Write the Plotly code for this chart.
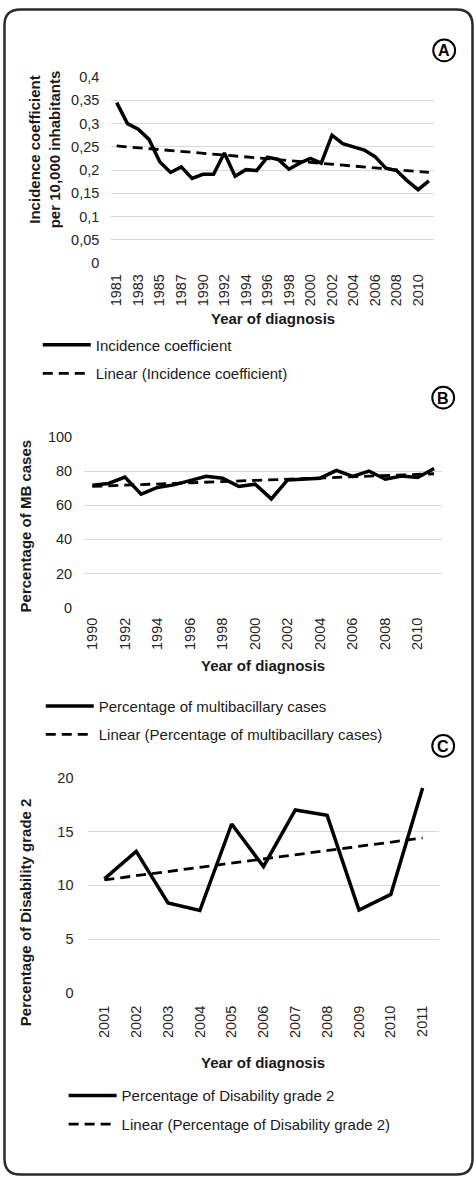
import plotly.graph_objects as go

W, H = 474, 1184

# panel A: incidence coefficient per 10,000 inhabitants
years_a = ["1981", "1982", "1983", "1984", "1985", "1986", "1987", "1989", "1990",
           "1991", "1992", "1993", "1994", "1995", "1996", "1997", "1998", "1999",
           "2000", "2001", "2002", "2003", "2004", "2005", "2006", "2007", "2008",
           "2009", "2010", "2011"]
incidence = [0.345, 0.300, 0.288, 0.266, 0.218, 0.195, 0.207, 0.182, 0.191,
             0.191, 0.237, 0.187, 0.201, 0.199, 0.228, 0.223, 0.202, 0.215,
             0.225, 0.215, 0.275, 0.257, 0.250, 0.243, 0.229, 0.204, 0.199,
             0.177, 0.158, 0.177]
trend_a = [0.252, 0.195]

# panel B: percentage of multibacillary cases
years_b = [str(y) for y in range(1990, 2012)]
mb_pct = [71.7, 72.7, 76.5, 66.5, 70.4, 71.9, 74.4, 76.9, 75.8, 71.0, 72.3,
          63.7, 74.8, 75.2, 75.8, 80.4, 76.9, 80.0, 75.2, 77.1, 76.2, 81.5]
trend_b = [71.0, 78.4]

# panel C: percentage of disability grade 2
years_c = [str(y) for y in range(2001, 2012)]
dis_pct = [10.6, 13.15, 8.35, 7.65, 15.7, 11.75, 17.0, 16.5, 7.7, 9.15, 19.05]
trend_c = [10.5, 14.4]

FONT = "Liberation Sans, Arial, sans-serif"
TICK = dict(family=FONT, size=14.5, color="#262626")
GRID = "#d9d9d9"


def px(x):
    return x / W


def py(y):
    return 1 - y / H


fig = go.Figure()

panels = [
    # name, axis suffix, years, values, trend, legend, plot box (l, r, top, bottom)
    ("Incidence coefficient", "", years_a, incidence, trend_a, "legend", (109, 434, 70, 258.7)),
    ("Percentage of multibacillary cases", "2", years_b, mb_pct, trend_b, "legend2", (81.7, 442, 434.7, 608)),
    ("Percentage of Disability grade 2", "3", years_c, dis_pct, trend_c, "legend3", (86, 438.3, 780.3, 998.3)),
]

for i, (name, ax, years, vals, trend, leg, box) in enumerate(panels):
    fig.add_trace(go.Scatter(
        x=years, y=vals, mode="lines", name=name,
        line=dict(color="black", width=3.5),
        xaxis="x" + ax, yaxis="y" + ax, legend=leg, legendgroup=f"d{i}",
    ))
    fig.add_trace(go.Scatter(
        x=[years[0], years[-1]], y=trend, mode="lines", name=f"Linear ({name})",
        line=dict(color="black", width=2.8, dash="10px,6px"),
        xaxis="x" + ax, yaxis="y" + ax, legend=leg, legendgroup=f"t{i}",
    ))

yaxis_cfg = [
    dict(range=[0, 0.4], dtick=0.05),
    dict(range=[0, 100], dtick=20),
    dict(range=[0, 20], dtick=5),
]
xtick_step = [2, 2, 1]
xstand = [7, 6, 9]
ystand = [11, 11, 14]

layout = {}
for i, (name, ax, years, vals, trend, leg, box) in enumerate(panels):
    l, r, t, b = box
    layout["xaxis" + ax] = dict(
        domain=[px(l), px(r)], anchor="y" + ax, type="category",
        range=[-0.5, len(years) - 0.5], showgrid=False, showline=False, zeroline=False,
        tickmode="array", tickvals=years[::xtick_step[i]], ticktext=years[::xtick_step[i]],
        tickangle=-90, tickfont=TICK, ticks="", ticklabelstandoff=xstand[i],
    )
    layout["yaxis" + ax] = dict(
        domain=[py(b), py(t)], anchor="x" + ax, showgrid=True, gridcolor=GRID,
        gridwidth=1.3, zeroline=False, showline=False, ticks="", tickfont=TICK,
        ticklabelstandoff=ystand[i], **yaxis_cfg[i],
    )

legend_pos = [(35, 325), (38, 691), (61, 1086)]
for i, (lx, ly) in enumerate(legend_pos):
    key = "legend" if i == 0 else f"legend{i + 1}"
    layout[key] = dict(
        x=px(lx), y=py(ly), xanchor="left", yanchor="top", bgcolor="rgba(0,0,0,0)",
        font=dict(family=FONT, size=15, color="#1a1a1a"), itemwidth=48,
        tracegroupgap=6, traceorder="grouped",
    )

annotations = []
title_font = dict(family=FONT, size=15, color="#1a1a1a")
# x-axis titles
for (cx, cy) in [(271.5, 315), (262, 667), (262, 1069)]:
    annotations.append(dict(
        text="<b>Year of diagnosis</b>", x=px(cx), y=py(cy), xref="paper", yref="paper",
        xanchor="center", yanchor="middle", showarrow=False, font=title_font,
    ))
# y-axis titles
y_titles = [
    ("<b>Incidence coefficient<br>per 10,000 inhabitants</b>", 41.5, 143),
    ("<b>Percentage of MB cases</b>", 22.7, 525),
    ("<b>Percentage of Disability grade 2</b>", 22.7, 917),
]
for text, cx, cy in y_titles:
    annotations.append(dict(
        text=text, x=px(cx), y=py(cy), xref="paper", yref="paper", textangle=-90,
        xanchor="center", yanchor="middle", showarrow=False, font=title_font,
    ))

# panel letters in circles
shapes = []
for letter, (cx, cy) in zip("ABC", [(444, 43), (443, 395), (443, 748)]):
    shapes.append(dict(
        type="circle", xref="paper", yref="paper",
        x0=px(cx - 11), x1=px(cx + 11), y0=py(cy + 11), y1=py(cy - 11),
        line=dict(color="black", width=2),
    ))
    annotations.append(dict(
        text=f"<b>{letter}</b>", x=px(cx), y=py(cy + 0.5), xref="paper", yref="paper",
        xanchor="center", yanchor="middle", showarrow=False,
        font=dict(family=FONT, size=16, color="black"),
    ))

# rounded frame around the whole figure
x0, x1, y0, y1, rr = 1.5, 472.5, 1.5, 1182.5, 16
frame = (
    f"M {px(x0 + rr)},{py(y0)} L {px(x1 - rr)},{py(y0)} "
    f"Q {px(x1)},{py(y0)} {px(x1)},{py(y0 + rr)} L {px(x1)},{py(y1 - rr)} "
    f"Q {px(x1)},{py(y1)} {px(x1 - rr)},{py(y1)} L {px(x0 + rr)},{py(y1)} "
    f"Q {px(x0)},{py(y1)} {px(x0)},{py(y1 - rr)} L {px(x0)},{py(y0 + rr)} "
    f"Q {px(x0)},{py(y0)} {px(x0 + rr)},{py(y0)} Z"
)
shapes.append(dict(type="path", xref="paper", yref="paper", path=frame,
                   line=dict(color="#2a2a2a", width=2.5)))

fig.update_layout(
    width=W, height=H, margin=dict(l=0, r=0, t=0, b=0),
    paper_bgcolor="white", plot_bgcolor="white",
    separators=",.", showlegend=True,
    annotations=annotations, shapes=shapes, **layout,
)

# pin the figure to the window's top-left corner so it fills 474x1184 exactly
pin = (
    "document.body.style.margin = '0';"
    "var gd = document.getElementById('{plot_id}');"
    "gd.style.position = 'fixed'; gd.style.top = '0'; gd.style.left = '0';"
)
fig.write_html("out.html", config={"displayModeBar": False}, post_script=pin)
